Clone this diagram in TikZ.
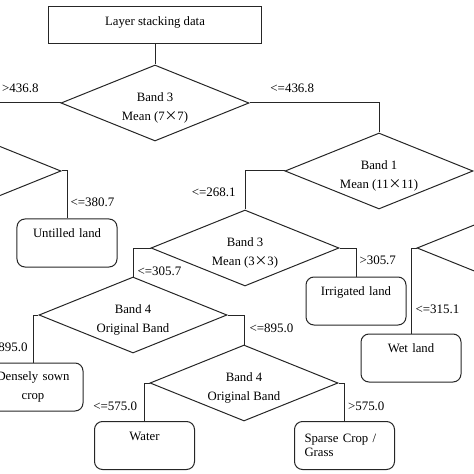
\documentclass[tikz,border=0pt]{standalone}
\usepackage{fontspec}
\setmainfont{Liberation Serif}
\newfontfamily\cjk{Noto Sans CJK SC}
\newcommand\bytimes{{\cjk ×}}
\usetikzlibrary{shapes.geometric}
\begin{document}
\begin{tikzpicture}[x=1bp, y=-1bp, line width=1bp, draw=black!85,
  test/.style={draw, diamond, aspect=2.47, minimum width=188bp, minimum height=76bp,
    inner sep=0pt, align=center, font=\fontsize{12.8}{19}\selectfont,
    execute at begin node=\rule{0pt}{38bp}},
  leaf/.style={draw, rounded corners=8bp, minimum width=100bp, minimum height=48bp,
    text width=88bp, inner sep=0pt, align=center, font=\fontsize{12.8}{19}\selectfont},
  cond/.style={inner sep=1bp, font=\fontsize{13}{14}\selectfont}]
\useasboundingbox (0,0) rectangle (474,474);
\clip (0,0) rectangle (474,474);
% source and tests
\node[draw, minimum width=212bp, minimum height=37bp, text depth=8bp, font=\fontsize{12.8}{14}\selectfont] (src) at (155,25.5) {Layer stacking data};
\node[test] (bmean7) at (155,103) {Band 3\\Mean (7\bytimes7)};
\node[test] (lcut) at (-33,171) {};
\node[test] (bmean11) at (379,171) {Band 1\\Mean (11\bytimes11)};
\node[test] (bmean3) at (245,248) {Band 3\\Mean (3\bytimes3)};
\node[test] (rcut) at (511,248) {};
\node[test] (borig1) at (133,315) {Band 4\\Original Band};
\node[test] (borig2) at (244,383) {Band 4\\Original Band};
% classes
\node[leaf] (untilled) at (67,243) {Untilled land\\\mbox{}};
\node[leaf] (irrig) at (356,301) {Irrigated land\\\mbox{}};
\node[leaf] (wet) at (411,358) {Wet land\\\mbox{}};
\node[leaf] (dense) at (33,387) {Densely sown\\crop};
\node[leaf] (water) at (144.5,445.5) {Water\\\mbox{}};
\node[leaf, text width=80bp, align=left, font=\fontsize{12.8}{14}\selectfont] (sparse) at (344.5,445.5) {\makebox[80bp][s]{Sparse Crop /}\\Grass};
% branches
\draw (src) -- (bmean7);
\draw (bmean7.west) -| node[cond, pos=.32, anchor=west, yshift=15bp] (c1) {>436.8} (lcut.north);
\draw (bmean7.east) -| node[cond, pos=.075, anchor=west, yshift=15bp] (c2) {<=436.8} (bmean11.north);
\draw (lcut.east) -| node[cond, pos=.83, anchor=west, xshift=2bp] (c3) {<=380.7} (untilled.north);
\draw (bmean11.west) -| node[cond, pos=.78, anchor=east, xshift=-8bp] (c4) {<=268.1} (bmean3.north);
\draw (bmean11.east) -| (rcut.north);
\draw (bmean3.west) -| node[cond, pos=.9, anchor=west, xshift=3bp] (c5) {<=305.7} (borig1.north);
\draw (bmean3.east) -| node[cond, pos=.71, anchor=west, xshift=2bp] (c6) {>305.7} (irrig.north);
\draw (rcut.west) -| node[cond, pos=.86, anchor=west, xshift=3bp] (c7) {<=315.1} (wet.north);
\draw (borig1.west) -| node[cond, pos=.84, anchor=east, xshift=-4bp] (c8) {>895.0} (dense.north);
\draw (borig1.east) -| node[cond, pos=.73, anchor=west, xshift=4bp] (c9) {<=895.0} (borig2.north);
\draw (borig2.west) -| node[cond, pos=.81, anchor=east, xshift=-6bp] (c10) {<=575.0} (water.north);
\draw (borig2.east) -| node[cond, pos=.81, anchor=west, xshift=2bp] (c11) {>575.0} (sparse.north);
\end{tikzpicture}
\end{document}
